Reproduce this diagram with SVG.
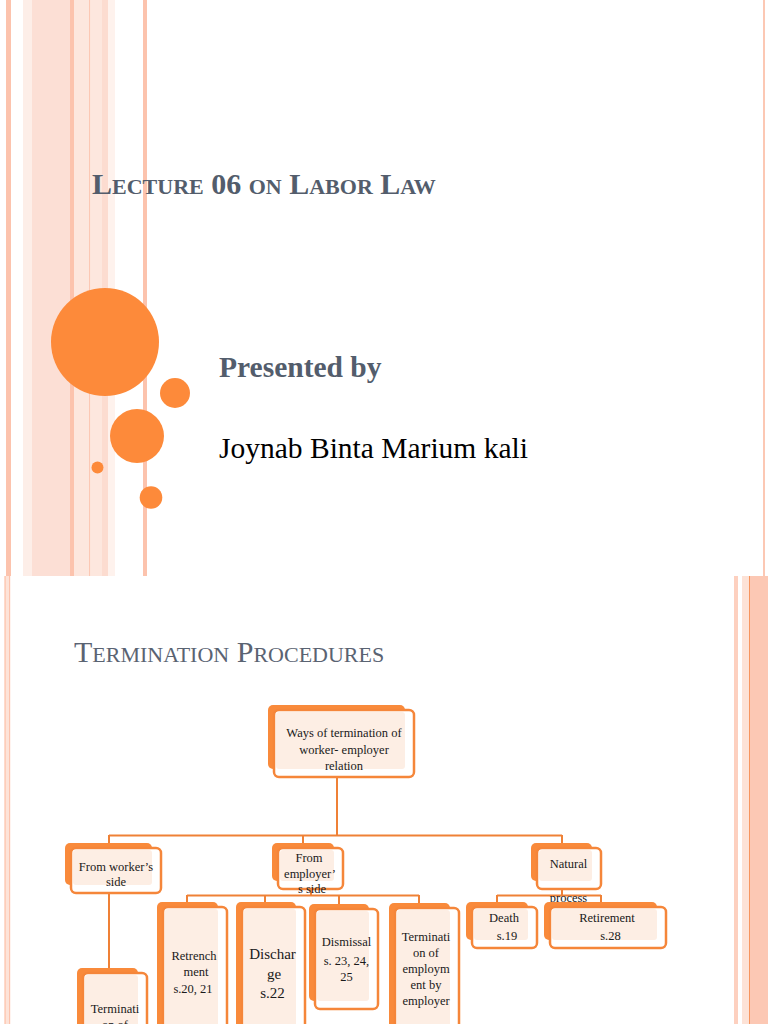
<svg xmlns="http://www.w3.org/2000/svg" width="768" height="1024" viewBox="0 0 768 1024">
<defs>
<style>
.back{fill:#f98a3b}
.box{fill:#ffffff;stroke:#f5863a;stroke-width:2.5}
.fill{fill:#fdeee4}
.t{font-family:"Liberation Serif","Times New Roman",serif;font-size:12.5px;fill:#1a1a1a;text-anchor:middle}
.big{font-size:15px}
.conn{fill:none;stroke:#ef8136;stroke-width:2}
.dot{fill:#fd8a3a}
</style>
</defs>
<rect x="0" y="0" width="768" height="1024" fill="#ffffff"/>
<!-- top slide stripes -->
<g id="top-stripes">
<rect x="6" y="0" width="5" height="576" fill="#fcc3ad"/>
<rect x="23" y="0" width="9" height="576" fill="#fdeee8"/>
<rect x="32" y="0" width="38" height="576" fill="#fcdfd5"/>
<rect x="70" y="0" width="4" height="576" fill="#fcc3ad"/>
<rect x="74" y="0" width="15" height="576" fill="#fde7de"/>
<rect x="89" y="0" width="1.5" height="576" fill="#fcc8b4"/>
<rect x="90.5" y="0" width="11.5" height="576" fill="#fde7de"/>
<rect x="102" y="0" width="6" height="576" fill="#fcdcd0"/>
<rect x="108" y="0" width="7" height="576" fill="#fef2ed"/>
<rect x="143" y="0" width="4" height="576" fill="#fcc3ad"/>
<rect x="763" y="0" width="2" height="576" fill="#fcc8b4"/>
</g>
<!-- bottom slide stripes -->
<g id="bottom-stripes">
<rect x="4.5" y="576" width="5.5" height="448" fill="#fde3d8"/>
<rect x="4.5" y="576" width="1.2" height="448" fill="#fcc3ad"/>
<rect x="9" y="576" width="1.2" height="448" fill="#fcc3ad"/>
<rect x="734" y="576" width="4" height="448" fill="#fdd0bf"/>
<rect x="742" y="576" width="7" height="448" fill="#fde2d6"/>
<rect x="749" y="576" width="1.2" height="448" fill="#f7955e"/>
<rect x="750" y="576" width="18" height="448" fill="#fcc8b4"/>
</g>
<!-- circles -->
<g id="circles">
<circle class="dot" cx="105" cy="342" r="54"/>
<circle class="dot" cx="175" cy="393" r="15"/>
<circle class="dot" cx="137" cy="436" r="27"/>
<circle class="dot" cx="97.5" cy="467.5" r="6"/>
<circle class="dot" cx="151" cy="497.5" r="11.3"/>
</g>
<!-- titles -->
<text x="92" y="193.5" font-family="'Liberation Serif','Times New Roman',serif" font-weight="bold" font-size="30" fill="#535d6c">L<tspan font-size="22">ECTURE</tspan> 06 <tspan font-size="22">ON</tspan> L<tspan font-size="22">ABOR</tspan> L<tspan font-size="22">AW</tspan></text>
<text x="219" y="377" font-family="'Liberation Serif','Times New Roman',serif" font-weight="bold" font-size="29.5" fill="#535d6c">Presented by</text>
<text x="219" y="458" font-family="'Liberation Serif','Times New Roman',serif" font-size="29.5" fill="#000000">Joynab Binta Marium kali</text>
<text x="74" y="662" font-family="'Liberation Serif','Times New Roman',serif" font-size="30" fill="#5a6372">T<tspan font-size="22">ERMINATION</tspan> P<tspan font-size="22">ROCEDURES</tspan></text>
<!-- connectors -->
<g id="connectors">
<path class="conn" d="M337 777 V835.5"/>
<path class="conn" d="M109 835.5 H562"/>
<path class="conn" d="M109 835 V848 M303 835 V848 M562 835 V848"/>
<path class="conn" d="M109 893 V973"/>
<path class="conn" d="M311 889 V895.5 M187 895.5 H419 M187 895 V908 M265 895 V908 M339 895 V909 M419 895 V908"/>
<path class="conn" d="M562 889 V895.5 M497 895.5 H601 M497 895 V907 M601 895 V907"/>
</g>
<!-- nodes -->
<g id="node-root">
<rect class="back" x="268" y="705" width="137" height="64" rx="5"/>
<rect class="box" x="274" y="710" width="140" height="67" rx="5"/>
<rect class="fill" x="276" y="712" width="129" height="57" rx="3"/>
<text class="t" x="344" y="736.5">Ways of termination of</text>
<text class="t" x="344" y="753.5">worker- employer</text>
<text class="t" x="344" y="769.5">relation</text>
</g>
<g id="node-worker">
<rect class="back" x="65" y="843" width="87" height="42" rx="5"/>
<rect class="box" x="71" y="848" width="90" height="45" rx="5"/>
<rect class="fill" x="73" y="850" width="79" height="35" rx="3"/>
<text class="t" x="116" y="870.5">From worker’s</text>
<text class="t" x="116" y="886">side</text>
</g>
<g id="node-employer">
<rect class="back" x="272" y="843" width="62" height="38" rx="5"/>
<rect class="box" x="278" y="848" width="65" height="41" rx="5"/>
<rect class="fill" x="280" y="850" width="54" height="31" rx="3"/>
<text class="t" x="309" y="861.5">From</text>
<text class="t" x="310" y="877.5">employer’</text>
<text class="t" x="312" y="893">s side</text>
</g>
<g id="node-natural">
<rect class="back" x="531" y="843" width="61" height="38" rx="5"/>
<rect class="box" x="537" y="848" width="64" height="41" rx="5"/>
<rect class="fill" x="539" y="850" width="53" height="31" rx="3"/>
<text class="t" x="568.5" y="868">Natural</text>
<text class="t" x="568.5" y="901.5">process</text>
</g>
<g id="node-retrenchment">
<rect class="back" x="157" y="902" width="61" height="130" rx="5"/>
<rect class="box" x="163" y="907" width="64" height="133" rx="5"/>
<rect class="fill" x="165" y="909" width="53" height="123" rx="3"/>
<text class="t" x="194" y="959.5">Retrench</text>
<text class="t" x="196" y="976">ment</text>
<text class="t" x="193" y="992.5">s.20, 21</text>
</g>
<g id="node-discharge">
<rect class="back" x="236" y="902" width="60" height="130" rx="5"/>
<rect class="box" x="242" y="907" width="63" height="133" rx="5"/>
<rect class="fill" x="244" y="909" width="52" height="123" rx="3"/>
<text class="t big" x="272.5" y="958.5">Dischar</text>
<text class="t big" x="274" y="978.5">ge</text>
<text class="t big" x="272.5" y="997.5">s.22</text>
</g>
<g id="node-dismissal">
<rect class="back" x="309" y="904" width="60" height="97" rx="5"/>
<rect class="box" x="315" y="909" width="63" height="100" rx="5"/>
<rect class="fill" x="317" y="911" width="52" height="90" rx="3"/>
<text class="t" x="346.5" y="946">Dismissal</text>
<text class="t" x="346.5" y="965">s. 23, 24,</text>
<text class="t" x="346.5" y="981">25</text>
</g>
<g id="node-termination-employer">
<rect class="back" x="389" y="903" width="61" height="130" rx="5"/>
<rect class="box" x="395" y="908" width="64" height="133" rx="5"/>
<rect class="fill" x="397" y="910" width="53" height="123" rx="3"/>
<text class="t" x="426" y="941">Terminati</text>
<text class="t" x="426" y="957">on of</text>
<text class="t" x="426" y="973">employm</text>
<text class="t" x="426" y="988.5">ent by</text>
<text class="t" x="426" y="1005">employer</text>
</g>
<g id="node-death">
<rect class="back" x="466" y="902" width="62" height="38" rx="5"/>
<rect class="box" x="472" y="907" width="65" height="41" rx="5"/>
<rect class="fill" x="474" y="909" width="54" height="31" rx="3"/>
<text class="t" x="504" y="922">Death</text>
<text class="t" x="507" y="939.5">s.19</text>
</g>
<g id="node-retirement">
<rect class="back" x="544" y="902" width="113" height="38" rx="5"/>
<rect class="box" x="550" y="907" width="116" height="41" rx="5"/>
<rect class="fill" x="552" y="909" width="105" height="31" rx="3"/>
<text class="t" x="607" y="922">Retirement</text>
<text class="t" x="610.5" y="939.5">s.28</text>
</g>
<g id="node-termination-worker">
<rect class="back" x="77" y="968" width="61" height="80" rx="5"/>
<rect class="box" x="83" y="973" width="64" height="83" rx="5"/>
<rect class="fill" x="85" y="975" width="53" height="73" rx="3"/>
<text class="t" x="115" y="1012.5">Terminati</text>
<text class="t" x="115" y="1028.5">on of</text>
</g>
</svg>
